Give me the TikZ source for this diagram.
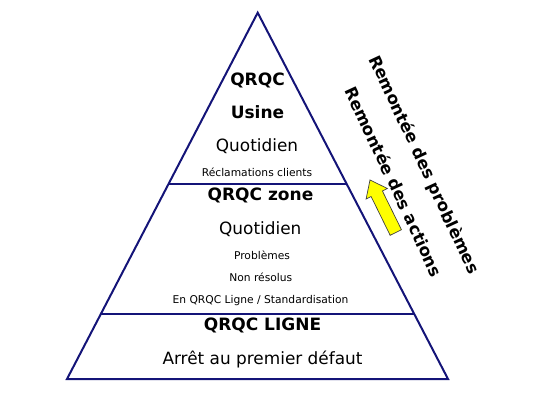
\documentclass[tikz,border=0pt]{standalone}
\usepackage{fontspec}
\setmainfont{DejaVu Sans}
\usetikzlibrary{calc}
\definecolor{pyrline}{RGB}{20,20,120}
\definecolor{arrowyellow}{RGB}{255,255,0}
\begin{document}
\begin{tikzpicture}[x=1pt,y=-1pt,
  edge/.style={draw=pyrline,line width=2pt,line join=miter},
  boldtxt/.style={anchor=base,inner sep=0pt,font=\fontsize{17}{20}\bfseries\selectfont},
  bigtxt/.style={anchor=base,inner sep=0pt,font=\fontsize{16.9}{20}\selectfont},
  smalltxt/.style={anchor=base,inner sep=0pt,font=\fontsize{10.7}{13}\selectfont},
  sidetxt/.style={inner sep=0pt,rotate=-65,font=\fontsize{16.6}{20}\bfseries\selectfont}]
\useasboundingbox (0,0) rectangle (541,412);
% pyramid
\coordinate (apex) at (257.7,12.7);
\coordinate (bl) at (67,379);
\coordinate (br) at (448,379);
\draw[edge] (apex) -- (br) -- (bl) -- cycle;
\coordinate (l1) at ($(apex)!0.4677!(bl)$);
\coordinate (r1) at ($(apex)!0.4677!(br)$);
\coordinate (l2) at ($(apex)!0.8226!(bl)$);
\coordinate (r2) at ($(apex)!0.8226!(br)$);
\draw[edge] (l1) -- (r1);
\draw[edge] (l2) -- (r2);
% texts
\node[boldtxt] (t1) at (257.5,85) {QRQC};
\node[boldtxt] (t2) at (257.5,118.3) {Usine};
\node[bigtxt] (t3) at (257,151.7) {Quotidien};
\node[smalltxt] (t4) at (257,176) {Réclamations clients};
\node[boldtxt] (t5) at (260.5,200.7) {QRQC zone};
\node[bigtxt] (t6) at (260.3,234) {Quotidien};
\node[smalltxt] (t7) at (262,259) {Problèmes};
\node[smalltxt] (t8) at (260.8,281.7) {Non résolus};
\node[smalltxt] (t9) at (260.5,303.3) {En QRQC Ligne / Standardisation};
\node[boldtxt] (t10) at (262.5,330.7) {QRQC LIGNE};
\node[bigtxt] (t11) at (262.5,364) {Arrêt au premier défaut};
% side texts
\node[sidetxt] (s1) at (423.5,165) {Remontée des problèmes};
\node[sidetxt] (s2) at (394.2,181.7) {Remontée des actions};
% yellow arrow
\coordinate (a1) at (390.15,235.3);
\coordinate (a2) at (401.45,229.7);
\coordinate (a3) at (382.4,191.0);
\coordinate (a4) at (387.4,188.5);
\coordinate (a5) at (370,180);
\coordinate (a6) at (366.1,199.0);
\coordinate (a7) at (371.1,196.5);
\draw[fill=arrowyellow,draw=black!75,line width=0.7pt,line join=miter]
  (a1) -- (a2) -- (a3) -- (a4) -- (a5) -- (a6) -- (a7) -- cycle;
\end{tikzpicture}
\end{document}
